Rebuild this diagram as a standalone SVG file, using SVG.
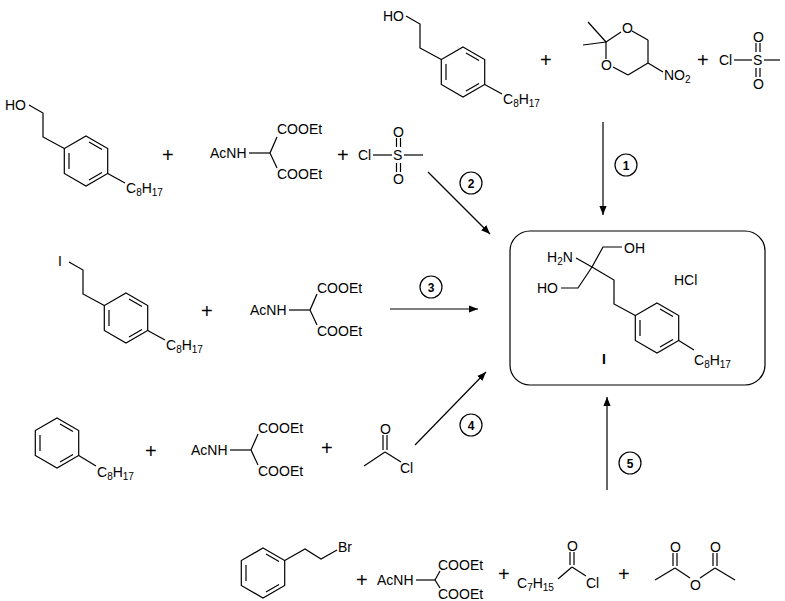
<svg xmlns="http://www.w3.org/2000/svg" width="785" height="601" viewBox="0 0 785 601">
<style>
line,polyline,polygon.r,path{stroke:#000;stroke-width:1.2;fill:none}
text{font-family:"Liberation Sans",Arial,sans-serif;font-size:14px;fill:#000}
.s{font-size:10px}
.p{font-size:20px}
.c{font-weight:bold;font-size:12px;text-anchor:middle}
circle{fill:#fff;stroke:#000;stroke-width:1.2}
.a{stroke:#000;stroke-width:1.2;marker-end:url(#ah)}
</style>
<defs>
<marker id="ah" viewBox="0 0 10 10" refX="10" refY="5" markerWidth="9" markerHeight="9" markerUnits="userSpaceOnUse" orient="auto"><path d="M0,1 L10,5 L0,9 Z" style="fill:#000;stroke:none"/></marker>
<g id="ring">
<polygon class="r" points="0,-25 21.7,-12.5 21.7,12.5 0,25 -21.7,12.5 -21.7,-12.5"/>
<line x1="3" y1="-19" x2="16" y2="-11.5"/>
<line x1="16" y1="11.5" x2="3" y2="19"/>
<line x1="-17" y1="-8" x2="-17" y2="8"/>
</g>
<g id="pring">
<use href="#ring"/>
<polyline points="-21.7,-12.5 -43,-24 -43,-48 -57,-56"/>
<line x1="21.7" y1="12.5" x2="39" y2="22"/>
</g>
</defs>

<g id="connectors">
<line class="a" x1="603" y1="122" x2="603" y2="215"/>
<line class="a" x1="428" y1="172" x2="490" y2="234"/>
<line class="a" x1="390" y1="309" x2="478" y2="309"/>
<line class="a" x1="415" y1="445" x2="486" y2="372"/>
<line class="a" x1="607" y1="490" x2="607" y2="397"/>
<circle cx="626" cy="165" r="11"/><text class="c" x="626" y="169.5">1</text>
<circle cx="471" cy="183" r="11"/><text class="c" x="471" y="187.5">2</text>
<circle cx="431" cy="287" r="11"/><text class="c" x="431" y="291.5">3</text>
<circle cx="471" cy="425" r="11"/><text class="c" x="471" y="429.5">4</text>
<circle cx="630" cy="463" r="11"/><text class="c" x="630" y="467.5">5</text>
</g>

<g id="product">
<rect x="510" y="231" width="255" height="154" rx="20" style="fill:none;stroke:#000;stroke-width:1.2"/>
<use href="#ring" x="657" y="328"/>
<line x1="678.7" y1="340.5" x2="694" y2="350"/>
<text x="694" y="365">C<tspan class="s" dy="3">8</tspan><tspan dy="-3">H</tspan><tspan class="s" dy="3">17</tspan></text>
<polyline points="635.3,315.5 614,304 614,280 592,267"/>
<line x1="592" y1="267" x2="576" y2="258"/>
<polyline points="592,267 603,247 622,247"/>
<polyline points="592,267 578,288 561,288"/>
<text x="547" y="262">H<tspan class="s" dy="3">2</tspan><tspan dy="-3">N</tspan></text>
<text x="624" y="253">OH</text>
<text x="537" y="293">HO</text>
<text x="674" y="285">HCl</text>
<text x="602" y="364" style="font-weight:bold">I</text>
</g>

<g id="m1">
<use href="#pring" x="86" y="161"/>
<text x="5" y="110">HO</text>
<text x="126" y="193">C<tspan class="s" dy="3">8</tspan><tspan dy="-3">H</tspan><tspan class="s" dy="3">17</tspan></text>
</g>
<g id="m2">
<use href="#pring" x="463" y="72"/>
<text x="383" y="21">HO</text>
<text x="503" y="104">C<tspan class="s" dy="3">8</tspan><tspan dy="-3">H</tspan><tspan class="s" dy="3">17</tspan></text>
</g>
<g id="m3">
<use href="#pring" x="126" y="318"/>
<text x="58" y="266">I</text>
<text x="166" y="350">C<tspan class="s" dy="3">8</tspan><tspan dy="-3">H</tspan><tspan class="s" dy="3">17</tspan></text>
</g>
<g id="m4">
<use href="#ring" x="57" y="443"/>
<line x1="78.7" y1="455.5" x2="96" y2="466"/>
<text x="97" y="477">C<tspan class="s" dy="3">8</tspan><tspan dy="-3">H</tspan><tspan class="s" dy="3">17</tspan></text>
</g>
<g id="m5">
<use href="#ring" x="263" y="573"/>
<polyline points="284.7,560.5 305,549 321,559 337,550"/>
<text x="338" y="552">Br</text>
</g>

<g id="mal1">
<text x="210" y="158">AcNH</text>
<line x1="249" y1="153" x2="270" y2="153"/>
<line x1="270" y1="153" x2="277" y2="137"/>
<line x1="270" y1="153" x2="277" y2="168"/>
<text x="277" y="134">COOEt</text>
<text x="277" y="179">COOEt</text>
</g>
<g id="mal2">
<text x="250" y="315">AcNH</text>
<line x1="289" y1="310" x2="310" y2="310"/>
<line x1="310" y1="310" x2="317" y2="294"/>
<line x1="310" y1="310" x2="317" y2="325"/>
<text x="317" y="293">COOEt</text>
<text x="317" y="336">COOEt</text>
</g>
<g id="mal3">
<text x="191" y="455">AcNH</text>
<line x1="230" y1="450" x2="251" y2="450"/>
<line x1="251" y1="450" x2="258" y2="434"/>
<line x1="251" y1="450" x2="258" y2="465"/>
<text x="258" y="433">COOEt</text>
<text x="258" y="476">COOEt</text>
</g>
<g id="mal4">
<text x="377" y="585">AcNH</text>
<line x1="416" y1="580" x2="435" y2="580"/>
<line x1="435" y1="580" x2="440" y2="571"/>
<line x1="435" y1="580" x2="440" y2="588"/>
<text x="438" y="570">COOEt</text>
<text x="438" y="599">COOEt</text>
</g>

<g id="mscl1">
<text x="358" y="160">Cl</text>
<line x1="373" y1="155" x2="392" y2="155"/>
<text x="393" y="160">S</text>
<line x1="404" y1="155" x2="423" y2="155"/>
<line x1="396.5" y1="147" x2="396.5" y2="138"/><line x1="400.5" y1="147" x2="400.5" y2="138"/>
<line x1="396.5" y1="163" x2="396.5" y2="172"/><line x1="400.5" y1="163" x2="400.5" y2="172"/>
<text x="393" y="137">O</text>
<text x="393" y="184">O</text>
</g>
<g id="mscl2">
<text x="719" y="65">Cl</text>
<line x1="734" y1="60" x2="752" y2="60"/>
<text x="753" y="65">S</text>
<line x1="764" y1="60" x2="780" y2="60"/>
<line x1="756" y1="52" x2="756" y2="43"/><line x1="760" y1="52" x2="760" y2="43"/>
<line x1="756" y1="68" x2="756" y2="77"/><line x1="760" y1="68" x2="760" y2="77"/>
<text x="753" y="42">O</text>
<text x="753" y="89">O</text>
</g>
<g id="dioxane">
<text x="622" y="33">O</text>
<text x="601" y="70">O</text>
<line x1="632" y1="31" x2="648" y2="40"/>
<line x1="648" y1="40" x2="648" y2="63"/>
<line x1="648" y1="63" x2="628" y2="75"/>
<line x1="628" y1="75" x2="613" y2="67"/>
<line x1="606" y1="59" x2="606" y2="42"/>
<line x1="606" y1="42" x2="621" y2="32"/>
<line x1="606" y1="42" x2="588" y2="22"/>
<line x1="606" y1="42" x2="583" y2="45"/>
<line x1="648" y1="63" x2="663" y2="72"/>
<text x="664" y="80">NO<tspan class="s" dy="3">2</tspan></text>
</g>
<g id="acetylcl">
<line x1="385" y1="452" x2="364" y2="466"/>
<line x1="385" y1="452" x2="401" y2="462"/>
<line x1="383" y1="450" x2="383" y2="435"/><line x1="387" y1="450" x2="387" y2="435"/>
<text x="380" y="434">O</text>
<text x="400" y="473">Cl</text>
</g>
<g id="octanoylcl">
<line x1="572" y1="567" x2="558" y2="579"/>
<line x1="572" y1="567" x2="586" y2="576"/>
<line x1="570" y1="565" x2="570" y2="552"/><line x1="574" y1="565" x2="574" y2="552"/>
<text x="567" y="551">O</text>
<text x="586" y="588">Cl</text>
<text x="517" y="588">C<tspan class="s" dy="3">7</tspan><tspan dy="-3">H</tspan><tspan class="s" dy="3">15</tspan></text>
</g>
<g id="anhydride">
<line x1="675" y1="568" x2="655" y2="580"/>
<line x1="675" y1="568" x2="690" y2="578"/>
<line x1="700" y1="578" x2="715" y2="568"/>
<line x1="715" y1="568" x2="735" y2="580"/>
<line x1="673" y1="566" x2="673" y2="553"/><line x1="677" y1="566" x2="677" y2="553"/>
<line x1="713" y1="566" x2="713" y2="553"/><line x1="717" y1="566" x2="717" y2="553"/>
<text x="670" y="552">O</text>
<text x="710" y="552">O</text>
<text x="690" y="590">O</text>
</g>
<g id="plus">
<text class="p" x="162" y="162">+</text>
<text class="p" x="540" y="67">+</text>
<text class="p" x="697" y="67">+</text>
<text class="p" x="337" y="162">+</text>
<text class="p" x="201" y="318">+</text>
<text class="p" x="145" y="458">+</text>
<text class="p" x="321" y="455">+</text>
<text class="p" x="356" y="587">+</text>
<text class="p" x="498" y="581">+</text>
<text class="p" x="618" y="581">+</text>
</g>
</svg>
